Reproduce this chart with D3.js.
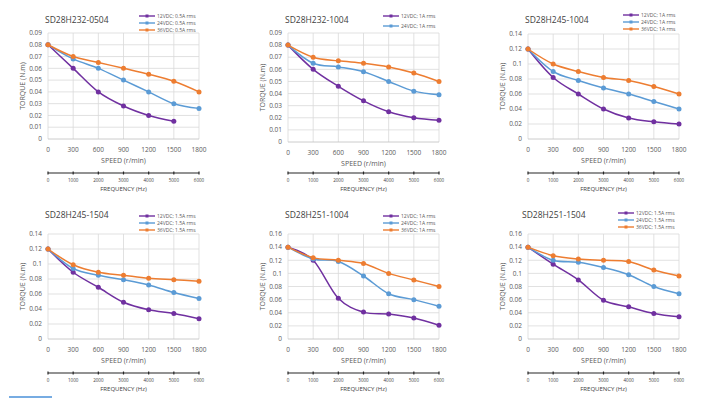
<!DOCTYPE html>
<html>
<head>
    <title>SD28 Torque Curves</title>
    <script src="https://d3js.org/d3.v7.min.js"></script>
    <style>
        body { margin: 0; background: #fff; font-family: "Open Sans", "Noto Sans", sans-serif; }
        #chart { display: block; }
        .grid line { stroke: #d9d9d9; stroke-width: 0.8; }
        .tick-label { fill: #595959; }
    </style>
</head>
<body>
    <svg id="chart"></svg>
<script>

const width = 701, height = 399;

// 横轴
const speeds = [0, 300, 600, 900, 1200, 1500, 1800];
const freqs = [0, 1000, 2000, 3000, 4000, 5000, 6000];

// 标题
const titles = ["SD28H232-0504", "SD28H232-1004", "SD28H245-1004",
                "SD28H245-1504", "SD28H251-1004", "SD28H251-1504"];
const currents = ["0.5A rms", "1A rms", "1A rms", "1.5A rms", "1A rms", "1.5A rms"];
const voltages = ["12VDC", "24VDC", "36VDC"];
const yMaxes = [0.09, 0.09, 0.14, 0.14, 0.16, 0.16];
const yTickSteps = [0.01, 0.01, 0.02, 0.02, 0.02, 0.02];

// 扭矩数据 (N.m)
const sd232_0504_12v = [0.08, 0.06, 0.04, 0.028, 0.02, 0.015, null];
const sd232_0504_24v = [0.08, 0.068, 0.06, 0.05, 0.04, 0.03, 0.026];
const sd232_0504_36v = [0.08, 0.07, 0.065, 0.06, 0.055, 0.049, 0.04];

const sd232_1004_12v = [0.08, 0.06, 0.046, 0.034, 0.025, 0.02, 0.018];
const sd232_1004_24v = [0.08, 0.065, 0.062, 0.058, 0.05, 0.042, 0.039];
const sd232_1004_36v = [0.08, 0.07, 0.067, 0.065, 0.062, 0.057, 0.05];

const sd245_1004_12v = [0.12, 0.082, 0.06, 0.04, 0.028, 0.023, 0.02];
const sd245_1004_24v = [0.12, 0.09, 0.078, 0.068, 0.06, 0.05, 0.04];
const sd245_1004_36v = [0.12, 0.1, 0.09, 0.082, 0.078, 0.07, 0.06];

const sd245_1504_12v = [0.12, 0.089, 0.069, 0.049, 0.039, 0.034, 0.027];
const sd245_1504_24v = [0.12, 0.094, 0.085, 0.079, 0.072, 0.062, 0.054];
const sd245_1504_36v = [0.12, 0.099, 0.089, 0.085, 0.081, 0.079, 0.077];

const sd251_1004_12v = [0.14, 0.12, 0.062, 0.041, 0.038, 0.032, 0.021];
const sd251_1004_24v = [0.14, 0.122, 0.118, 0.096, 0.069, 0.06, 0.05];
const sd251_1004_36v = [0.14, 0.124, 0.12, 0.115, 0.1, 0.09, 0.08];

const sd251_1504_12v = [0.14, 0.114, 0.09, 0.059, 0.049, 0.039, 0.034];
const sd251_1504_24v = [0.14, 0.12, 0.117, 0.109, 0.098, 0.08, 0.069];
const sd251_1504_36v = [0.14, 0.127, 0.122, 0.12, 0.118, 0.105, 0.096];

const seriesSets = [
    [sd232_0504_12v, sd232_0504_24v, sd232_0504_36v],
    [sd232_1004_12v, sd232_1004_24v, sd232_1004_36v],
    [sd245_1004_12v, sd245_1004_24v, sd245_1004_36v],
    [sd245_1504_12v, sd245_1504_24v, sd245_1504_36v],
    [sd251_1004_12v, sd251_1004_24v, sd251_1004_36v],
    [sd251_1504_12v, sd251_1504_24v, sd251_1504_36v]
];

const colors = ["#7030a0", "#5b9bd5", "#ed7d31"];

// 每个小图的布局
const panels = [
    { x: 0,   y: 0,   top: 33, bottom: 139, legendX: 139, legendY: 16, legendN: 3 },
    { x: 240, y: 0,   top: 33, bottom: 142, legendX: 143, legendY: 16, legendN: 2, legendGap: 10 },
    { x: 480, y: 0,   top: 34, bottom: 139, legendX: 143, legendY: 15, legendN: 3 },
    { x: 0,   y: 200, top: 34, bottom: 139, legendX: 139, legendY: 16, legendN: 3 },
    { x: 240, y: 200, top: 34, bottom: 139, legendX: 143, legendY: 16, legendN: 3 },
    { x: 480, y: 200, top: 34, bottom: 139, legendX: 138, legendY: 13, legendN: 3 }
];

const svg = d3.select("#chart")
    .attr("width", width)
    .attr("height", height);

svg.append("rect").attr("width", width).attr("height", height).attr("fill", "#fff");

panels.forEach((p, i) => {
    const g = svg.append("g").attr("transform", `translate(${p.x},${p.y})`);
    const left = 48, right = 199;

    const x = d3.scalePoint().domain(speeds).range([left, right]);
    const y = d3.scaleLinear().domain([0, yMaxes[i]]).range([p.bottom, p.top]);
    const fx = d3.scaleLinear().domain([0, 6000]).range([left, right]);

    const yTicks = d3.range(0, yMaxes[i] + 1e-9, yTickSteps[i]);

    // 网格
    const grid = g.append("g").attr("class", "grid");
    grid.selectAll("line.h")
        .data(yTicks.slice(1))
        .join("line")
        .attr("x1", left).attr("x2", right)
        .attr("y1", d => y(d)).attr("y2", d => y(d));
    grid.selectAll("line.v")
        .data(speeds)
        .join("line")
        .attr("x1", d => x(d)).attr("x2", d => x(d))
        .attr("y1", p.top).attr("y2", p.bottom);
    g.append("line")
        .attr("x1", left).attr("x2", right)
        .attr("y1", p.bottom).attr("y2", p.bottom)
        .attr("stroke", "#bfbfbf").attr("stroke-width", 0.8);

    // y 轴刻度
    g.selectAll("text.ytick")
        .data(yTicks)
        .join("text")
        .attr("class", "tick-label")
        .attr("x", 42)
        .attr("y", d => y(d))
        .attr("dy", "0.35em")
        .attr("text-anchor", "end")
        .style("font-size", "6.5px")
        .text(d => d === 0 ? "0" : String(+d.toFixed(2)));

    // x 轴刻度
    g.selectAll("text.xtick")
        .data(speeds)
        .join("text")
        .attr("class", "tick-label")
        .attr("x", d => x(d))
        .attr("y", p.bottom + 13)
        .attr("text-anchor", "middle")
        .style("font-size", "6.5px")
        .text(d => d);

    g.append("text")
        .attr("x", (left + right) / 2)
        .attr("y", p.bottom + 24)
        .attr("text-anchor", "middle")
        .attr("fill", "#595959")
        .style("font-size", "7px")
        .text("SPEED (r/min)");

    g.append("text")
        .attr("transform", `translate(25,${(p.top + p.bottom) / 2}) rotate(-90)`)
        .attr("text-anchor", "middle")
        .attr("fill", "#595959")
        .style("font-size", "7px")
        .text("TORQUE (N.m)");

    // 频率轴
    const fAxis = g.append("g").attr("transform", "translate(0,173)");
    fAxis.append("line")
        .attr("x1", left).attr("x2", right)
        .attr("stroke", "#262626").attr("stroke-width", 1.2);
    fAxis.selectAll("line.ft")
        .data(freqs)
        .join("line")
        .attr("x1", d => fx(d)).attr("x2", d => fx(d))
        .attr("y1", -1.5).attr("y2", 1.5)
        .attr("stroke", "#262626").attr("stroke-width", 1.2);
    fAxis.selectAll("text")
        .data(freqs)
        .join("text")
        .attr("x", d => fx(d))
        .attr("y", 9)
        .attr("text-anchor", "middle")
        .attr("fill", "#404040")
        .style("font-size", "4.5px")
        .text(d => d);

    g.append("text")
        .attr("x", (left + right) / 2)
        .attr("y", 191)
        .attr("text-anchor", "middle")
        .attr("fill", "#404040")
        .style("font-size", "6px")
        .text("FREQUENCY (Hz)");

    // 标题
    g.append("text")
        .attr("x", i === 5 ? 42 : 45)
        .attr("y", i >= 3 ? 18 : 23)
        .attr("fill", "#404040")
        .style("font-size", "8.5px")
        .text(titles[i]);

    // 曲线
    const line = d3.line()
        .defined(d => d[1] !== null)
        .x(d => x(d[0]))
        .y(d => y(d[1]))
        .curve(d3.curveCardinal.tension(0));

    seriesSets[i].forEach((vals, k) => {
        const pts = speeds.map((s, j) => [s, vals[j]]).filter(d => d[1] !== null);
        g.append("path")
            .datum(pts)
            .attr("fill", "none")
            .attr("stroke", colors[k])
            .attr("stroke-width", 1.5)
            .attr("d", line);
        g.selectAll(null)
            .data(pts)
            .join("circle")
            .attr("cx", d => x(d[0]))
            .attr("cy", d => y(d[1]))
            .attr("r", 2.5)
            .attr("fill", colors[k]);
    });

    // 图例
    const gap = p.legendGap || 7;
    for (let k = 0; k < p.legendN; k++) {
        const row = g.append("g").attr("transform", `translate(${p.legendX},${p.legendY + k * gap})`);
        row.append("line")
            .attr("x1", 0).attr("x2", 16)
            .attr("stroke", colors[k]).attr("stroke-width", 1.4);
        row.append("rect")
            .attr("x", 6.5).attr("y", -1.5).attr("width", 3).attr("height", 3)
            .attr("fill", colors[k]);
        row.append("text")
            .attr("x", 18)
            .attr("dy", "0.35em")
            .attr("fill", "#595959")
            .style("font-size", "5px")
            .text(`${voltages[k]}; ${currents[i]}`);
    }
});

// 左下角的蓝色短线
svg.append("line")
    .attr("x1", 9).attr("x2", 52)
    .attr("y1", 397).attr("y2", 397)
    .attr("stroke", "#4a90d9").attr("stroke-width", 1.5);

</script>
</body>
</html>
